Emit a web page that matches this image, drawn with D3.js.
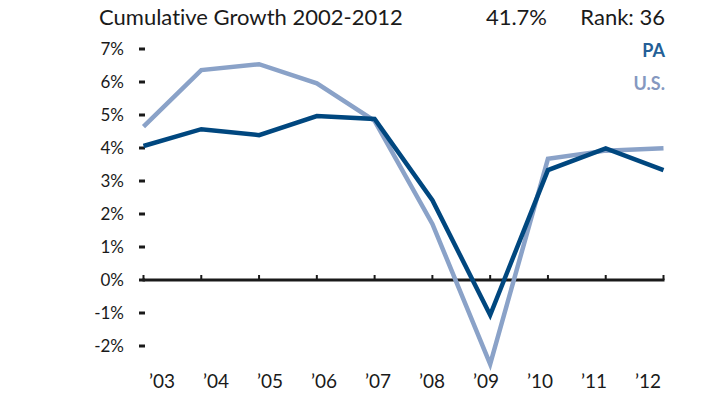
<!DOCTYPE html>
<html>
<head>
<meta charset="utf-8">
<script src="https://cdn.jsdelivr.net/npm/d3@7"></script>
<style>
  body { margin: 0; background: #fff; }
  text { font-family: Lato, "Open Sans", sans-serif; fill: #1a1a1a; font-variant-ligatures: none; }
</style>
</head>
<body>
<div id="container"></div>
<script>
var years = ["2003", "2004", "2005", "2006", "2007", "2008", "2009", "2010", "2011", "2012"];
var yearLabels = ["\u201903", "\u201904", "\u201905", "\u201906", "\u201907", "\u201908", "\u201909", "\u201910", "\u201911", "\u201912"];
var paValues = [4.06, 4.57, 4.39, 4.97, 4.88, 2.42, -1.06, 3.33, 3.99, 3.33];
var usValues = [4.65, 6.36, 6.54, 5.96, 4.82, 1.70, -2.55, 3.67, 3.92, 3.99];
var yTicks = [-2, -1, 0, 1, 2, 3, 4, 5, 6, 7];

const width = 701;
const height = 395;

const svg = d3.select("#container").append("svg")
    .attr("width", width)
    .attr("height", height);

const x = d3.scalePoint().domain(years).range([143.5, 663.5]);
const xLabel = d3.scalePoint().domain(years).range([162, 648]);
const y = d3.scaleLinear().domain([-2, 7]).range([346, 49]);

// title row
svg.append("text").attr("x", 99).attr("y", 25)
  .style("font-size", "22px").text("Cumulative Growth 2002-2012");
svg.append("text").attr("x", 547).attr("y", 25).attr("text-anchor", "end")
  .style("font-size", "22px").text("41.7%");
svg.append("text").attr("x", 665).attr("y", 25).attr("text-anchor", "end")
  .style("font-size", "22px").text("Rank: 36");

// legend
svg.append("text").attr("x", 665).attr("y", 57).attr("text-anchor", "end")
  .style("font-size", "18px").style("font-weight", "bold").style("fill", "#245f97").text("PA");
svg.append("text").attr("x", 665).attr("y", 90).attr("text-anchor", "end")
  .style("font-size", "18px").style("font-weight", "bold").style("fill", "#8598c0").text("U.S.");

// y ticks + labels
svg.selectAll(".ytick")
  .data(yTicks)
  .enter().append("rect")
  .attr("class", "ytick")
  .attr("x", 139)
  .attr("y", d => y(d) - 1.5)
  .attr("width", 6)
  .attr("height", 3)
  .attr("fill", "#1a1a1a");

svg.selectAll(".ylabel")
  .data(yTicks)
  .enter().append("text")
  .attr("class", "ylabel")
  .attr("x", 124)
  .attr("y", d => y(d))
  .attr("dy", "0.35em")
  .attr("text-anchor", "end")
  .style("font-size", "17px")
  .text(d => d + "%");

// zero line with small ticks
svg.append("line")
  .attr("x1", x(years[0]) - 1).attr("x2", x(years[years.length - 1]) + 1)
  .attr("y1", y(0)).attr("y2", y(0))
  .attr("stroke", "#1a1a1a").attr("stroke-width", 3);

svg.selectAll(".xtick")
  .data(years)
  .enter().append("line")
  .attr("class", "xtick")
  .attr("x1", d => x(d)).attr("x2", d => x(d))
  .attr("y1", y(0) - 5).attr("y2", y(0))
  .attr("stroke", "#1a1a1a").attr("stroke-width", 2);

svg.selectAll(".xlabel")
  .data(years)
  .enter().append("text")
  .attr("class", "xlabel")
  .attr("x", d => xLabel(d))
  .attr("y", 388)
  .attr("text-anchor", "middle")
  .style("font-size", "19px")
  .text((d, i) => yearLabels[i]);

// lines
const line = d3.line()
  .x((d, i) => x(years[i]))
  .y(d => y(d));

svg.append("path")
  .datum(usValues)
  .attr("d", line)
  .attr("fill", "none")
  .attr("stroke", "#8aa2c8")
  .attr("stroke-width", 4.5)
  .attr("stroke-linejoin", "miter");

svg.append("path")
  .datum(paValues)
  .attr("d", line)
  .attr("fill", "none")
  .attr("stroke", "#00477f")
  .attr("stroke-width", 4.5)
  .attr("stroke-linejoin", "miter");
</script>
</body>
</html>
